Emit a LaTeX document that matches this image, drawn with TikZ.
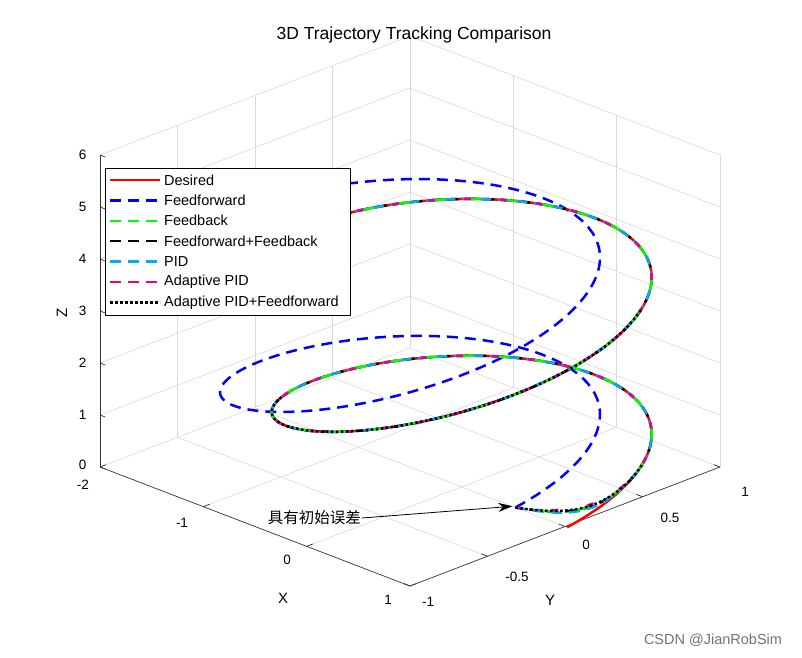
\documentclass[tikz,border=0pt]{standalone}
\usepackage{fontspec}
\setmainfont{Liberation Sans}
\newfontfamily\cjk{Noto Sans CJK SC}
\usetikzlibrary{arrows.meta,calc}
\begin{document}
\begin{tikzpicture}[
  gridline/.style={draw=black!15, line width=0.6pt},
  axline/.style={draw=black!80, line width=0.7pt},
  lbl/.style={font=\fontsize{13.5}{15}\selectfont},
  leglbl/.style={font=\fontsize{14.5}{16}\selectfont},
  big/.style={font=\fontsize{15}{17}\selectfont},
  desired/.style={red, line width=2.5pt},
  ffw/.style={blue, line width=2.5pt, dash pattern=on 11pt off 7pt},
  fb/.style={green, line width=2.5pt, dash pattern=on 11pt off 7pt},
  fffb/.style={black, line width=2.5pt, dash pattern=on 11pt off 7pt},
  pidl/.style={cyan, line width=2.5pt, dash pattern=on 11pt off 7pt},
  apid/.style={magenta, line width=2.5pt, dash pattern=on 11pt off 7pt},
  apidff/.style={black, line width=2.5pt, dash pattern=on 2.5pt off 2.5pt},
]
\useasboundingbox (0,0) rectangle (802pt,-657pt);
\fill[white] (0,0) rectangle (802pt,-657pt);
\begin{scope}[shift={(100pt,-467pt)}, x={(103.33pt,-39.67pt)}, y={(155pt,59.5pt)}, z={(0pt,52pt)}]
  \foreach \X in {0,1,2}{\draw[gridline] (\X,0,0) -- (\X,2,0);}
  \foreach \Y in {0.5,1,1.5,2}{\draw[gridline] (0,\Y,0) -- (3,\Y,0);}
  \foreach \Z in {1,...,6}{\draw[gridline] (0,0,\Z) -- (0,2,\Z);}
  \foreach \Y in {0.5,1,1.5,2}{\draw[gridline] (0,\Y,0) -- (0,\Y,6);}
  \foreach \Z in {1,...,6}{\draw[gridline] (0,2,\Z) -- (3,2,\Z);}
  \foreach \X in {1,2,3}{\draw[gridline] (\X,2,0) -- (\X,2,6);}
  \coordinate (o) at (0,0,0);
  \coordinate (xe) at (3,0,0);
  \coordinate (ye) at (3,2,0);
  \coordinate (zt) at (0,0,6);
  \draw[axline] (o) -- (xe) -- (ye);
  \draw[axline] (o) -- (zt);
  \foreach \Z in {0,...,6}{\draw[axline] (0,0,\Z) -- ++(0.05,0,0);}
  \foreach \X in {0,1,2,3}{\draw[axline] (\X,0,0) -- ++(0,0.04,0);}
  \foreach \Y in {0,0.5,1,1.5,2}{\draw[axline] (3,\Y,0) -- ++(-0.06,0,0);}
  \draw[ffw] plot[domain=0:10.2, samples=300, variable=\t] ({1.02*cos(\t r)+1.5},{1.02*sin(\t r)+1},{0.48*\t});
  \draw[desired] plot[domain=0:10.2, samples=300, variable=\t] ({1.02*cos(\t r)+2},{1.02*sin(\t r)+1},{0.48*\t});
  \draw[fffb, dash phase=4pt] plot[domain=0:10.2, samples=300, variable=\t] ({1.02*cos(\t r)+2-0.5*exp(-10*\t)},{1.02*sin(\t r)+1},{0.48*\t-0.08*\t*exp(-6*\t)});
  \draw[pidl] plot[domain=0:10.2, samples=300, variable=\t] ({1.02*cos(\t r)+2-0.5*exp(-12*\t)},{1.02*sin(\t r)+1},{0.48*\t});
  \draw[fb, dash phase=9pt, dash pattern=on 11pt off 25pt] plot[domain=0:10.2, samples=300, variable=\t] ({1.02*cos(\t r)+2-0.5*exp(-10*\t)},{1.02*sin(\t r)+1},{0.48*\t-0.05*\t*exp(-6*\t)});
  \draw[apid, dash pattern=on 7pt off 29pt] plot[domain=0:10.2, samples=300, variable=\t] ({1.02*cos(\t r)+2-0.5*exp(-8*\t)},{1.02*sin(\t r)+1},{0.48*\t-0.12*\t*exp(-6*\t)});
  \foreach \a/\b in {0/0.66,3.80/6.94,10.09/10.2}{
    \draw[apidff] plot[domain=\a:\b, samples=120, variable=\t] ({1.02*cos(\t r)+2-0.5*exp(-9*\t)},{1.02*sin(\t r)+1},{0.48*\t-0.1*\t*exp(-6*\t)});
  }
  \coordinate (err) at (2.49,1,0);
\end{scope}
\foreach \v/\yy in {0/465,1/415,2/363,3/311,4/259,5/207,6/155}{\node[lbl, anchor=east] (zt\v) at (90pt,-\yy pt) {\v};}
\node[lbl] (xa) at (83pt,-485pt) {-2};
\node[lbl] (xb) at (182pt,-523pt) {-1};
\node[lbl] (xc) at (287pt,-560pt) {0};
\node[lbl] (xd) at (388pt,-600pt) {1};
\node[lbl] (ya) at (428pt,-602pt) {-1};
\node[lbl] (yb) at (517pt,-577pt) {-0.5};
\node[lbl] (yc) at (586pt,-545pt) {0};
\node[lbl] (yd) at (670pt,-518pt) {0.5};
\node[lbl] (ye2) at (745pt,-492pt) {1};
\node[big] (xl) at (283pt,-598pt) {X};
\node[big] (yl) at (550pt,-600pt) {Y};
\node[big, rotate=90] (zl) at (62pt,-313pt) {Z};
\node[font=\fontsize{17.5}{20}\selectfont] (title) at (414pt,-35pt) {3D Trajectory Tracking Comparison};
\node[font=\cjk\fontsize{15.5}{17}\selectfont, anchor=east, inner sep=1pt] (ann) at (362pt,-518pt) {具有初始误差};
\draw[-{Stealth[length=14pt,width=9pt]}, line width=0.8pt] (ann.east) -- (err);
\node[draw=black, fill=white, line width=0.7pt, minimum width=245pt, minimum height=147pt, anchor=north west, inner sep=0] (leg) at (105pt,-168pt) {};
\foreach \i/\s/\t in {0/desired/Desired,1/ffw/Feedforward,2/fb/Feedback,3/fffb/Feedforward+Feedback,4/pidl/PID,5/apid/Adaptive PID,6/apidff/Adaptive PID+Feedforward}{
  \draw[\s] ($(leg.north west)+(5pt,-12pt-20.4pt*\i)$) -- ++(50pt,0);
  \node[leglbl, anchor=west, inner sep=0] at ($(leg.north west)+(59pt,-12pt-20.4pt*\i)$) {\t};
}
\node[font=\fontsize{14.5}{16}\selectfont, text=black!55] (wm) at (713pt,-640pt) {CSDN @JianRobSim};
\end{tikzpicture}
\end{document}
